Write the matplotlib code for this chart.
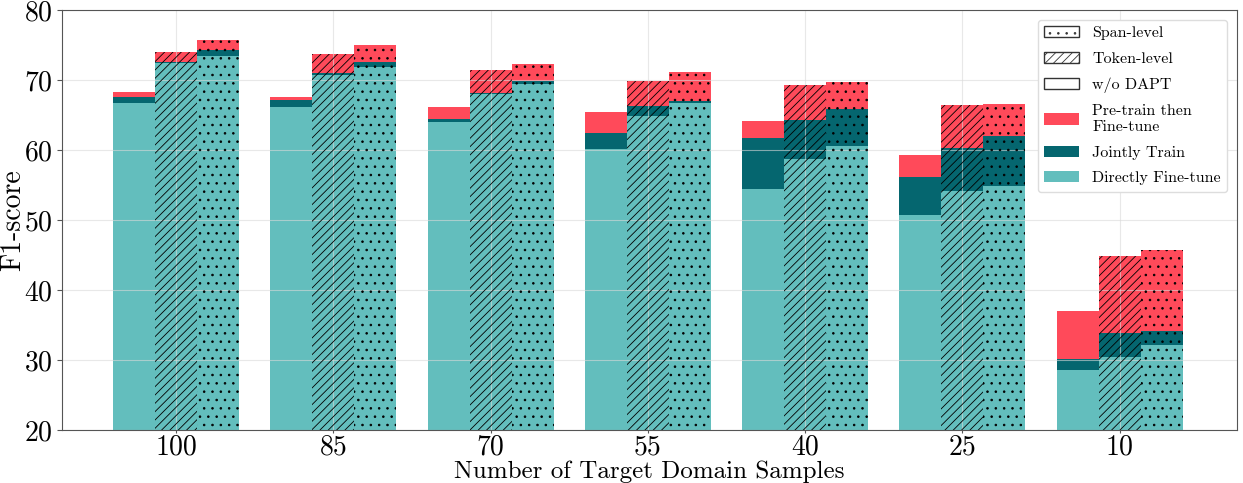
import matplotlib.pyplot as plt
import numpy as np
from matplotlib.patches import Patch

plt.rcParams['font.family'] = 'serif'
plt.rcParams['font.serif'] = ['cmr10']
plt.rcParams['mathtext.fontset'] = 'cm'
plt.rcParams['axes.formatter.use_mathtext'] = True
plt.rcParams['hatch.linewidth'] = 0.6

samples = ['100', '85', '70', '55', '40', '25', '10']

# w/o DAPT
direct_wo = [66.7, 66.2, 64.0, 60.1, 54.5, 50.7, 28.6]
joint_wo = [67.6, 67.1, 64.5, 62.5, 61.7, 56.1, 30.1]
pretrain_wo = [68.3, 67.6, 66.2, 65.4, 64.1, 59.3, 37.0]
# Token-level
direct_tok = [72.4, 70.7, 68.0, 64.9, 58.7, 54.1, 30.5]
joint_tok = [72.6, 71.0, 68.2, 66.3, 64.3, 60.3, 33.8]
pretrain_tok = [74.0, 73.7, 71.4, 69.9, 69.3, 66.5, 44.8]
# Span-level
direct_span = [73.4, 71.9, 69.5, 66.7, 60.6, 54.8, 32.1]
joint_span = [74.3, 72.6, 69.9, 67.0, 65.9, 62.0, 34.1]
pretrain_span = [75.7, 75.0, 72.3, 71.2, 69.7, 66.6, 45.7]

c_pre = '#ff4a5a'
c_joint = '#05666f'
c_direct = '#63bebd'

fig, ax = plt.subplots(figsize=(12.43, 4.83), dpi=100)
plt.subplots_adjust(left=0.0499, right=0.995, top=0.979, bottom=0.1097)

x = np.arange(len(samples))
w = 0.267
groups = [(direct_wo, joint_wo, pretrain_wo, None),
          (direct_tok, joint_tok, pretrain_tok, '////'),
          (direct_span, joint_span, pretrain_span, '..')]

for i, (d, j, p, h) in enumerate(groups):
    pos = x + (i - 1) * w
    ax.bar(pos, p, w, color=c_pre, lw=0, zorder=2)
    ax.bar(pos, j, w, color=c_joint, lw=0, zorder=2)
    ax.bar(pos, d, w, color=c_direct, lw=0, zorder=2)
    if h:
        ax.bar(pos, p, w, fill=False, hatch=h, edgecolor='k', lw=0, zorder=3)

ax.set_ylim(20, 80)
ax.set_xlim(-0.725, 6.745)
ax.set_xticks(x)
ax.set_xticklabels(samples, fontsize=20)
ax.tick_params(axis='y', labelsize=20, color='#555555')
ax.tick_params(axis='x', length=2, pad=1, color='#555555')
ax.set_ylabel('F1-score', fontsize=20)
ax.yaxis.set_label_coords(-0.0306, 0.5)
ax.set_xlabel('Number of Target Domain Samples', fontsize=18, labelpad=0)
ax.grid(True, color='#d9d9d9', lw=0.8, alpha=0.6, zorder=4)
ax.set_axisbelow(False)
for s in ax.spines.values():
    s.set_color('#555555')
    s.set_zorder(5)

handles = [
    Patch(facecolor='white', edgecolor='#333333', hatch='..', label='Span-level'),
    Patch(facecolor='white', edgecolor='#333333', hatch='////', label='Token-level'),
    Patch(facecolor='white', edgecolor='#333333', label='w/o DAPT'),
    Patch(facecolor=c_pre, label='Pre-train then\nFine-tune'),
    Patch(facecolor=c_joint, label='Jointly Train'),
    Patch(facecolor=c_direct, label='Directly Fine-tune'),
]
leg = ax.legend(handles=handles, loc='upper right', fontsize=11.5, framealpha=1,
                edgecolor='#dddddd', borderaxespad=0.6, labelspacing=0.72,
                handlelength=2.2)
leg.set_zorder(6)

fig.savefig('out.png', dpi=100)
